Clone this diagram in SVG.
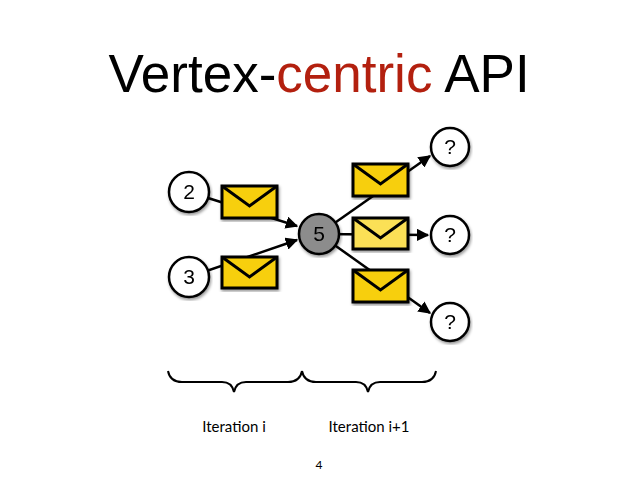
<svg xmlns="http://www.w3.org/2000/svg" width="638" height="479" viewBox="0 0 638 479">
<style>
.n{fill:#fff;stroke:#000;stroke-width:2.5}
.t{font-family:"Liberation Sans",Arial,sans-serif;font-size:21px;text-anchor:middle}
.e{stroke:#000;stroke-width:2.5;fill:none}
.env rect{fill:#f7cf0c;stroke:#000;stroke-width:3}
.env path{fill:none;stroke:#000;stroke-width:3}
.lab{font-family:"Gill Sans","Lato",sans-serif;font-size:15px;text-anchor:middle}
</style>
<defs>
<marker id="a" viewBox="0 0 10 10" refX="9" refY="5" markerWidth="5" markerHeight="5" orient="auto"><path d="M0,0L10,5L0,10z"/></marker>
<filter id="s"><feDropShadow dx="1" dy="2" stdDeviation="1.5" flood-opacity="0.4"/></filter>
</defs>
<text x="319" y="92" style="font-family:'Liberation Sans',Arial,sans-serif;font-size:53px" text-anchor="middle">Vertex-<tspan fill="#b3200f">centric</tspan> API</text>
<g id="edges" class="e">
<line x1="189" y1="192" x2="297" y2="226" marker-end="url(#a)"/>
<line x1="189" y1="277" x2="297" y2="240" marker-end="url(#a)"/>
<line x1="319" y1="234" x2="430" y2="156" marker-end="url(#a)"/>
<line x1="319" y1="234" x2="428" y2="235" marker-end="url(#a)"/>
<line x1="319" y1="234" x2="430" y2="313" marker-end="url(#a)"/>
</g>
<g id="env1" class="env" filter="url(#s)"><rect x="222" y="186" width="55" height="32"/><path d="M222,186L249.5,206L277,186"/></g>
<g id="env2" class="env" filter="url(#s)"><rect x="222" y="257" width="55" height="31"/><path d="M222,257L249.5,277L277,257"/></g>
<g id="env3" class="env" filter="url(#s)"><rect x="353" y="164" width="55" height="32"/><path d="M353,164L380.5,184L408,164"/></g>
<g id="env4" class="env" filter="url(#s)"><rect x="353" y="218" width="55" height="31" style="fill:#fbe056"/><path d="M353,218L380.5,238L408,218"/></g>
<g id="env5" class="env" filter="url(#s)"><rect x="353" y="270" width="55" height="32"/><path d="M353,270L380.5,290L408,270"/></g>
<g id="n2" filter="url(#s)"><circle class="n" cx="189" cy="192" r="20"/><text class="t" x="189" y="199">2</text></g>
<g id="n3" filter="url(#s)"><circle class="n" cx="189" cy="277" r="20"/><text class="t" x="189" y="284">3</text></g>
<g id="n5" filter="url(#s)"><circle class="n" cx="319" cy="234" r="20" style="fill:#8c8c8c"/><text class="t" x="319" y="241">5</text></g>
<g id="q1" filter="url(#s)"><circle class="n" cx="450" cy="147" r="19"/><text class="t" x="450" y="154">?</text></g>
<g id="q2" filter="url(#s)"><circle class="n" cx="450" cy="235" r="19"/><text class="t" x="450" y="242">?</text></g>
<g id="q3" filter="url(#s)"><circle class="n" cx="450" cy="322" r="19"/><text class="t" x="450" y="329">?</text></g>
<g id="braces" fill="none" stroke="#000" stroke-width="2">
<path d="M168,371Q170,382 182,382L222,382Q232,382 234,392Q236,382 246,382L288,382Q300,382 302,371"/>
<path d="M302,371Q304,382 316,382L356,382Q366,382 368,392Q370,382 380,382L422,382Q434,382 436,371"/>
</g>
<text class="lab" x="234" y="432">Iteration i</text>
<text class="lab" x="369" y="432">Iteration i+1</text>
<text class="lab" x="319" y="469" style="font-size:12px">4</text>
</svg>
